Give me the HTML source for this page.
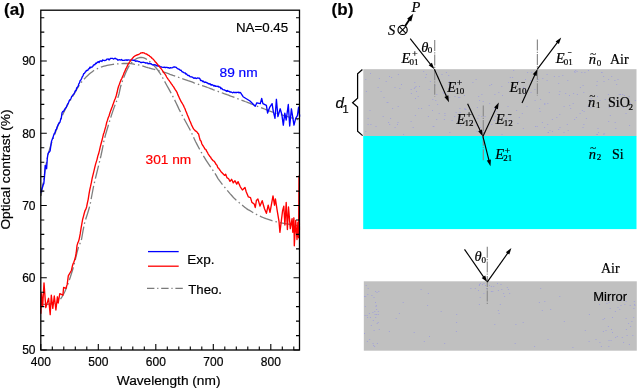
<!DOCTYPE html>
<html><head><meta charset="utf-8"><title>Optical contrast</title>
<style>
html,body{margin:0;padding:0;background:#fff}
body{width:638px;height:388px;overflow:hidden}
svg{display:block}
text{font-family:"Liberation Sans",Arial,sans-serif;fill:#000;stroke:#000;stroke-width:0.2px}
.cb{stroke:#0000ff}.cr{stroke:#ff0000}
.si{font-family:"Liberation Serif","Times New Roman",serif;font-style:italic}
.sr{font-family:"Liberation Serif","Times New Roman",serif}
</style></head><body>
<svg width="638" height="388" viewBox="0 0 638 388">
<rect width="638" height="388" fill="#fff"/>
<!-- panel a -->
<g fill="none" stroke-linejoin="round">
<polyline points="41,196 42.5,186.8 44,177.2 45.5,167.9 47,159.7 48.5,153.1 50,147.7 51.5,143 53,138.8 54.5,134.8 56,130.9 57.5,126.9 59,123.2 60.5,119.6 62,116.2 63.5,113 65,109.9 66.5,107 68,104.3 69.5,101.7 71,99.2 72.5,96.7 74,94.1 75.5,91.5 77,88.9 78.5,86.4 80,84.2 81.5,82.2 83,80.4 84.5,78.7 86,77.1 87.5,75.7 89,74.3 90.5,73 92,71.9 93.5,70.8 95,69.9 96.5,69.1 98,68.4 99.5,67.8 101,67.2 102.5,66.7 104,66.2 105.5,65.8 107,65.4 108.5,65.1 110,64.8 111.5,64.6 113,64.4 114.5,64.2 116,64 117.5,63.9 119,63.8 120.5,63.7 122,63.6 123.5,63.5 125,63.5 126.5,63.5 128,63.5 129.5,63.6 131,63.7 132.5,63.9 134,64.2 135.5,64.4 137,64.6 138.5,64.9 140,65.3 141.5,65.7 143,66.1 144.5,66.6 146,67.1 147.5,67.5 149,68 150.5,68.4 152,68.8 153.5,69.2 155,69.5 156.5,69.9 158,70.3 159.5,70.8 161,71.2 162.5,71.7 164,72.2 165.5,72.7 167,73.2 168.5,73.7 170,74.3 171.5,74.8 173,75.4 174.5,75.9 176,76.4 177.5,77 179,77.5 180.5,78 182,78.6 183.5,79.1 185,79.6 186.5,80.1 188,80.7 189.5,81.2 191,81.7 192.5,82.2 194,82.8 195.5,83.3 197,83.8 198.5,84.3 200,84.8 201.5,85.4 203,85.9 204.5,86.4 206,86.9 207.5,87.5 209,88 210.5,88.6 212,89.2 213.5,89.8 215,90.3 216.5,90.9 218,91.4 219.5,92 221,92.5 222.5,93 224,93.6 225.5,94.1 227,94.7 228.5,95.2 230,95.8 231.5,96.4 233,96.9 234.5,97.5 236,98.1 237.5,98.6 239,99.2 240.5,99.8 242,100.3 243.5,100.9 245,101.5 246.5,102 248,102.6 249.5,103.2 251,103.8 252.5,104.3 254,104.9 255.5,105.5 257,106.1 258.5,106.6 260,107.2 261.5,107.8 263,108.4 264.5,109 266,109.6 267.5,110.2 269,110.8 270.5,111.3 272,111.8 273.5,112.3 275,112.8 276.5,113.3 278,113.7 279.5,114.2 281,114.6 282.5,115.1 284,115.5 285.5,116 287,116.4 288.5,116.9 290,117.3 291.5,117.8 293,118.2 294.5,118.6 296,119.1 297.5,119.5 299,120" stroke="#7e7e7e" stroke-width="1.3" stroke-dasharray="13.5 3 1.5 3"/>
<polyline points="41,304.5 42.5,304.4 44,304.4 45.5,304.3 47,304.3 48.5,304.2 50,304 51.5,303.8 53,303.6 54.5,303.3 56,302.8 57.5,302 59,300.8 60.5,299.1 62,296.9 63.5,294.3 65,291.2 66.5,287.8 68,283.8 69.5,279.5 71,275 72.5,270.2 74,264.9 75.5,258.9 77,252.6 78.5,247 80,243.4 81.5,239.5 83,230.9 84.5,223.4 86,218.3 87.5,213.7 89,208.8 90.5,202.7 92,194.5 93.5,186.7 95,180.2 96.5,174 98,167.9 99.5,161.8 101,155.5 102.5,148.5 104,140.5 105.5,134.9 107,129.7 108.5,124.8 110,119.9 111.5,115.1 113,110.6 114.5,106.4 116,102.7 117.5,98.9 119,94 120.5,87 122,82.2 123.5,78 125,74.4 126.5,71 128,67.9 129.5,65.2 131,63.2 132.5,61.6 134,60.3 135.5,59.3 137,58.4 138.5,57.8 140,57.5 141.5,57.5 143,57.7 144.5,58.2 146,58.9 147.5,59.8 149,60.9 150.5,62.2 152,63.6 153.5,65.1 155,66.7 156.5,68.5 158,70.4 159.5,72.5 161,74.8 162.5,77.5 164,80.2 165.5,83 167,85.7 168.5,88.4 170,91.1 171.5,93.9 173,96.7 174.5,99.6 176,102.7 177.5,105.9 179,109.1 180.5,112.1 182,115 183.5,117.8 185,120.5 186.5,123.3 188,126 189.5,128.8 191,131.7 192.5,134.9 194,138.3 195.5,141.5 197,144.4 198.5,147.2 200,149.9 201.5,152.6 203,155.2 204.5,157.7 206,160.1 207.5,162.4 209,164.6 210.5,166.8 212,169 213.5,171.2 215,173.4 216.5,175.9 218,178.6 219.5,180.7 221,182.7 222.5,184.6 224,186.4 225.5,188.2 227,190 228.5,191.8 230,193.6 231.5,195.3 233,197 234.5,198.6 236,199.9 237.5,201.2 239,202.5 240.5,203.7 242,205 243.5,206.2 245,207.4 246.5,208.6 248,209.6 249.5,210.4 251,211.3 252.5,212.2 254,213.1 255.5,213.9 257,214.7 258.5,215.5 260,216.2 261.5,216.9 263,217.5 264.5,218.1 266,218.7 267.5,219.2 269,219.7 270.5,220.2 272,220.7 273.5,221.1 275,221.5 276.5,221.8 278,222.2 279.5,222.5 281,222.8 282.5,223.1 284,223.4 285.5,223.7 287,223.9 288.5,224.2 290,224.5 291.5,224.7 293,225 294.5,225.2 296,225.5 297.5,225.7 299,226" stroke="#7e7e7e" stroke-width="1.3" stroke-dasharray="13.5 3 1.5 3"/>
<polyline points="41,192.7 41.7,189.5 42.4,187.6 43.1,185 43.8,183.6 44.5,176.6 45.2,165.4 45.9,166.4 46.6,168.7 47.3,158.3 48,153.7 48.7,152.4 49.4,151.9 50.1,150.9 50.8,146 51.5,141.4 52.2,139.4 52.9,137.9 53.6,135.4 54.3,133.5 55,132.8 55.7,129.8 56.4,129.5 57.1,127 57.8,125.4 58.5,124 59.2,123 59.9,122.3 60.6,119.6 61.3,118.1 62,112.8 62.7,111.5 63.4,111.5 64.1,110.3 64.8,109.2 65.5,108.1 66.2,107.5 66.9,105.7 67.6,104.1 68.3,103.1 69,101.4 69.7,99.9 70.4,99.5 71.1,98.2 71.8,96.3 72.5,95.8 73.2,94.5 73.9,94 74.6,92.6 75.3,90.7 76,90.7 76.7,88 77.4,87.2 78.1,86.4 78.8,83.9 79.5,82.9 80.2,80.5 80.9,79.9 81.6,78.5 82.3,76.7 83,75.8 83.7,73.7 84.4,73.3 85.1,72.3 85.8,71.5 86.5,70.5 87.2,70.5 87.9,70.1 88.6,68.8 89.3,68.6 90,67.1 90.7,67.7 91.4,67.1 92.1,67.1 92.8,66.4 93.5,65 94.2,64.7 94.9,64.7 95.6,63.2 96.3,63.5 97,62.6 97.7,62.1 98.4,61.7 99.1,62.5 99.8,61.1 100.5,61 101.2,61 101.9,61.5 102.6,59.9 103.3,60.3 104,60.3 104.7,60.6 105.4,60.3 106.1,60.2 106.8,59.1 107.5,59.1 108.2,58.9 108.9,59.7 109.6,59.7 110.3,58.3 111,58.3 111.7,58.3 112.4,58.3 113.1,58.8 113.8,59 114.5,58.5 115.2,58.1 115.9,58.9 116.6,59 117.3,59.4 118,60.2 118.7,59.9 119.4,59.7 120.1,59.8 120.8,60 121.5,59.5 122.2,60.3 122.9,60.3 123.6,60.4 124.3,60.4 125,60 125.7,60.1 126.4,59.9 127.1,60.4 127.8,59.9 128.5,59.9 129.2,60.1 129.9,60.1 130.6,60.3 131.3,60 132,60 132.7,60.2 133.4,60.2 134.1,60.5 134.8,60.3 135.5,61.2 136.2,61.2 136.9,61 137.6,61.2 138.3,61.5 139,61.7 139.7,61.6 140.4,62.4 141.1,62.7 141.8,62.3 142.5,62.4 143.2,62.2 143.9,62.3 144.6,62.6 145.3,62.7 146,63.3 146.7,62.8 147.4,62.8 148.1,63.8 148.8,63.5 149.5,63.3 150.2,63.9 150.9,63.6 151.6,64.2 152.3,64.8 153,64.9 153.7,64.9 154.4,64.7 155.1,65 155.8,65 156.5,65.7 157.2,65.7 157.9,66.1 158.6,65.8 159.3,65.9 160,66.6 160.7,67 161.4,67 162.1,67.2 162.8,67.3 163.5,67.4 164.2,67.1 164.9,67.5 165.6,67.5 166.3,67.3 167,67.4 167.7,67.7 168.4,67.7 169.1,68 169.8,68.2 170.5,67.6 171.2,67.9 171.9,67.8 172.6,67.7 173.3,67.1 174,67 174.7,67 175.4,67.1 176.1,67.3 176.8,68 177.5,68.6 178.2,69 178.9,69.1 179.6,69.7 180.3,70.3 181,70.2 181.7,71.2 182.4,71.9 183.1,72.2 183.8,72.6 184.5,72.8 185.2,73 185.9,74 186.6,74 187.3,74.9 188,75.5 188.7,75.4 189.4,75.9 190.1,76.7 190.8,76.9 191.5,76.8 192.2,77.1 192.9,77.4 193.6,78.2 194.3,78.3 195,77.7 195.7,78.3 196.4,78.5 197.1,78.2 197.8,78 198.5,78.2 199.2,78.1 199.9,78.7 200.6,80.5 201.3,80.4 202,80.6 202.7,81.6 203.4,81.2 204.1,82.2 204.8,82.5 205.5,82 206.2,82.4 206.9,82.8 207.6,83 208.3,83.8 209,83.6 209.7,84.1 210.4,83.9 211.1,85.2 211.8,84.6 212.5,84.9 213.2,85.3 213.9,86 214.6,85.4 215.3,86.4 216,86 216.7,86.3 217.4,86.5 218.1,86.1 218.8,87 219.5,87 220.2,87.1 220.9,88.7 221.6,88.1 222.3,89 223,89.7 223.7,89.8 224.4,89.8 225.1,90.4 225.8,90.7 226.5,91.3 227.2,90.5 227.9,91.4 228.6,91.1 229.3,91.3 230,92.2 230.7,91.9 231.4,92.1 232.1,92.5 232.8,92.8 233.5,92.2 234.2,92.5 234.9,92.4 235.6,92.5 236.3,92.7 237,92.3 237.7,92.4 238.4,92.2 239.1,92.9 239.8,92.4 240.5,92.7 243.1,96.7 250,101 255.2,106.2 256.9,102.8 260.3,103.6 261.7,98.4 262.9,103.6 266.4,105.3 267.6,113.1 269.8,107.1 272.1,103.6 273.3,111.4 275,118.3 276.4,99.3 277.9,116.6 280.2,108.8 281.9,114.8 283.3,125.2 284.8,113.1 286.2,120 288.3,104.5 289.7,126 291.4,108.8 294,125.2 295.7,118.3 297.4,115.7 298.6,107.1 299.7,116.6" stroke="#0000ff" stroke-width="1.35"/>
<polyline points="40.9,313.8 41.5,293.7 42.7,306 44,282.9 45.8,307.6 48.6,298.3 50.2,314.6 51.3,295.2 52.8,308.4 54.3,296 55.9,310 57.4,296.8 58.2,303 59.8,293.7 62.9,295.2 63.6,287.5 66,288.3 67.2,284.4 68.3,275.9 71.4,270.5 72.2,266.8 73,264 73.8,262.2 74.6,260.1 75.4,257 76.2,253 77,245.6 77.8,242.9 78.6,241.3 79.4,238.1 80.2,233.9 81,228.6 81.8,224.2 82.6,219.5 83.4,216.6 84.2,213.5 85,210.7 85.8,209.4 86.6,207 87.4,202.9 88.2,199.3 89,194.1 89.8,189.6 90.6,186.2 91.4,182.4 92.2,178.1 93,174.9 93.8,171.7 94.6,168.2 95.4,164.9 96.2,162.1 97,159.6 97.8,156.1 98.6,153.8 99.4,150.7 100.2,147.1 101,144 101.8,141 102.6,137.8 103.4,134.3 104.2,132.2 105,129.1 105.8,126.4 106.6,122.8 107.4,120.4 108.2,117.7 109,116 109.8,113.2 110.6,110.9 111.4,108.8 112.2,106.8 113,104.6 113.8,102.2 114.6,100 115.4,98.2 116.2,95.7 117,92.8 117.8,89 118.6,86.2 119.4,84.3 120.2,82.1 121,79.9 121.8,78.6 122.6,76.5 123.4,74.8 124.2,72.5 125,71.1 125.8,68.8 126.6,67.6 127.4,65.7 128.2,64.1 129,62.9 129.8,61.9 130.6,60.4 131.4,59.3 132.2,58.7 133,57.7 133.8,56.8 134.6,56.2 135.4,55.6 136.2,55.3 137,55 137.8,54.7 138.6,54.6 139.4,53.9 140.2,53.5 141,52.9 141.8,52.8 142.6,52.6 143.4,52.9 144.2,52.9 145,53.6 145.8,53.8 146.6,54 147.4,54.6 148.2,55.3 149,55.4 149.8,56.4 150.6,56.8 151.4,57.5 152.2,58.5 153,59 153.8,59.9 154.6,60.9 155.4,62 156.2,62.6 157,63.8 157.8,64.7 158.6,65.7 159.4,66.6 160.2,67.6 161,68.5 161.8,69.7 162.6,70.7 163.4,72.3 164.2,73.1 165,74.2 165.8,75.3 166.6,77 167.4,78.2 168.2,79.3 169,80.3 169.8,81.5 170.6,82.7 171.4,83.9 172.2,84.9 173,86.1 173.8,87.1 174.6,88.7 175.4,89.9 176.2,91 177,92.3 177.8,94.6 178.6,96.2 179.4,98.1 180.2,99.7 181,101.4 181.8,102.7 182.6,104 183.4,105.3 184.2,107.3 185,108.8 185.8,110.9 186.6,112.8 187.4,114.9 188.2,116.7 189,118.7 189.8,120.8 190.6,122.6 191.4,124.6 192.2,126.2 193,127.9 193.8,129.1 194.6,130.1 195.4,130.9 196.2,131.3 197,132 197.8,133.3 198.6,134.1 199.4,137.4 200.2,140.2 201,140.9 201.8,143.7 202.6,145.3 203.4,146.2 204.2,147.7 205,149.1 205.8,149.3 206.6,151.2 207.4,152.3 208.2,154.1 209,155.2 209.8,156.4 210.6,157.1 211.4,158.7 212.2,159.5 213,160.6 213.8,161 214.6,161.8 215.4,163.1 216.2,164.6 217,165.3 217.8,167.6 218.6,168.2 219.4,169.4 220.2,170.5 221,171.7 221.8,172.5 224.7,175.4 225.7,174.2 226.9,177.6 228.6,178.8 230,181.4 231.6,179.3 233.3,182.9 235,180.7 236.7,184.1 238.1,181.7 240.2,186.6 242.4,190 245,187.4 246.2,191.7 248.4,196.9 250.5,197.6 251.9,202.4 254.2,204 255.3,207.5 256.4,200.5 257.9,198.9 260,206.1 262.2,200.7 264.5,208.8 266.4,213.3 268.2,205.2 270,212.4 273,195.9 274.5,205.2 275.4,198.9 277.2,210.6 279,221.4 279.9,232.3 282.6,210.6 283.8,206.1 284.9,225 286.2,202.5 287.4,229.5 288.5,207 290.3,228.6 292.1,218.7 292.8,232.3 293.9,217.8 294.3,245.8 295.7,220.5 297,239.5 297.9,222.3 298.6,237.7 299,176 299.4,230" stroke="#ff0000" stroke-width="1.35"/>
</g>
<rect x="40.8" y="10.2" width="258.7" height="339.8" fill="none" stroke="#000" stroke-width="1.3"/>
<path d="M40.8 350V344M52.3 350V346.5M63.8 350V346.5M75.3 350V346.5M86.8 350V346.5M98.3 350V344M109.8 350V346.5M121.3 350V346.5M132.8 350V346.5M144.3 350V346.5M155.8 350V344M167.3 350V346.5M178.8 350V346.5M190.3 350V346.5M201.8 350V346.5M213.3 350V344M224.8 350V346.5M236.3 350V346.5M247.8 350V346.5M259.3 350V346.5M270.8 350V344M282.3 350V346.5M293.8 350V346.5M40.8 350H46.8M299.5 350H293.5M40.8 335.6H44.3M299.5 335.6H296M40.8 321.1H44.3M299.5 321.1H296M40.8 306.6H44.3M299.5 306.6H296M40.8 292.2H44.3M299.5 292.2H296M40.8 277.8H46.8M299.5 277.8H293.5M40.8 263.3H44.3M299.5 263.3H296M40.8 248.9H44.3M299.5 248.9H296M40.8 234.4H44.3M299.5 234.4H296M40.8 220H44.3M299.5 220H296M40.8 205.5H46.8M299.5 205.5H293.5M40.8 191.1H44.3M299.5 191.1H296M40.8 176.6H44.3M299.5 176.6H296M40.8 162.2H44.3M299.5 162.2H296M40.8 147.7H44.3M299.5 147.7H296M40.8 133.2H46.8M299.5 133.2H293.5M40.8 118.8H44.3M299.5 118.8H296M40.8 104.4H44.3M299.5 104.4H296M40.8 89.9H44.3M299.5 89.9H296M40.8 75.4H44.3M299.5 75.4H296M40.8 61H46.8M299.5 61H293.5M40.8 46.6H44.3M299.5 46.6H296M40.8 32.1H44.3M299.5 32.1H296M40.8 17.7H44.3M299.5 17.7H296" stroke="#000" stroke-width="1.1" fill="none"/>
<g font-size="12"><text x="40.8" y="365.5" text-anchor="middle">400</text><text x="98.3" y="365.5" text-anchor="middle">500</text><text x="155.8" y="365.5" text-anchor="middle">600</text><text x="213.3" y="365.5" text-anchor="middle">700</text><text x="270.8" y="365.5" text-anchor="middle">800</text><text x="35.5" y="354.3" text-anchor="end">50</text><text x="35.5" y="282.1" text-anchor="end">60</text><text x="35.5" y="209.8" text-anchor="end">70</text><text x="35.5" y="137.6" text-anchor="end">80</text><text x="35.5" y="65.3" text-anchor="end">90</text></g>
<text x="4" y="15" font-size="17" font-weight="bold">(a)</text>
<text x="236" y="32" font-size="13.3">NA=0.45</text>
<text x="219.6" y="76.8" font-size="13.7" class="cb" style="fill:#0000ff">89 nm</text>
<text x="145.6" y="163.8" font-size="13.7" class="cr" style="fill:#ff0000">301 nm</text>
<line x1="148" y1="251.6" x2="178.7" y2="251.6" stroke="#0000ff" stroke-width="1.3"/>
<line x1="148" y1="266.2" x2="178.7" y2="266.2" stroke="#ff0000" stroke-width="1.3"/>
<line x1="147" y1="288.4" x2="184" y2="288.4" stroke="#7a7a7a" stroke-width="1.1" stroke-dasharray="7.4 2.8 1.2 2.8"/>
<text x="187.3" y="263.5" font-size="13.6">Exp.</text>
<text x="188.3" y="294" font-size="13.2">Theo.</text>
<text x="168.6" y="384.7" font-size="13.7" text-anchor="middle">Wavelength (nm)</text>
<text transform="translate(10.3 169.5) rotate(-90)" font-size="13.7" text-anchor="middle">Optical contrast (%)</text>
<!-- panel b -->
<text x="331.6" y="15" font-size="17" font-weight="bold">(b)</text>
<rect x="363.3" y="69.2" width="273.2" height="67" fill="#c0c0c0"/>
<rect x="363.2" y="136" width="273.3" height="93.1" fill="#00ffff"/>
<rect x="363.8" y="281.3" width="273" height="69.4" fill="#c0c0c0"/>
<path d="M428.7 105.5h1M464.6 109.5h1M534.2 74.5h1M367.6 124.5h1M434.5 85.5h1M634.8 100.5h1M591.5 100.5h1M537.8 79.5h1M536.7 126.5h1M506.3 118.5h1M546.6 74.5h1M570.2 108.5h1M445.9 72.5h1M599.4 100.5h1M559.5 127.5h1M558.2 129.5h1M471.4 122.5h1M484.9 130.5h1M603.1 76.5h1M401 84.5h1M626.6 98.5h1M534.4 89.5h1M502 95.5h1M459.4 108.5h1M522.9 128.5h1M549.5 130.5h1M596.9 134.5h1M546.6 80.5h1M598.1 132.5h1M610.1 106.5h1M558.2 83.5h1M590.2 107.5h1M441.5 74.5h1M596.3 134.5h1M388.1 122.5h1M475.6 79.5h1M443.9 119.5h1M601.4 72.5h1M531.2 72.5h1M559.4 91.5h1M603.6 133.5h1M501.5 134.5h1M448.2 75.5h1M527.1 72.5h1M417.7 96.5h1M530 80.5h1M375.5 126.5h1M449.4 132.5h1M607.9 94.5h1M489.2 103.5h1M539.1 108.5h1M516.1 110.5h1M619.8 102.5h1M481.3 116.5h1M428.6 89.5h1M630 103.5h1M513.2 70.5h1M476.9 107.5h1M369.5 110.5h1M536 73.5h1M534.6 100.5h1M548.8 92.5h1M556.3 117.5h1M370 73.5h1M547.9 132.5h1M432.3 99.5h1M525.2 90.5h1M463 90.5h1M464.4 108.5h1M445.7 94.5h1M574.1 71.5h1M518.8 117.5h1M448.3 84.5h1M582.6 85.5h1M415 98.5h1M553.9 76.5h1M451.6 91.5h1M590.7 98.5h1M596.7 81.5h1M455.6 112.5h1M604.7 99.5h1M425.2 77.5h1M508.1 82.5h1M583.4 124.5h1M413.9 88.5h1M583.6 111.5h1M583.3 92.5h1M399.3 88.5h1M579.9 87.5h1M458.2 97.5h1M478.2 96.5h1M614.4 80.5h1M365.3 131.5h1M603.4 134.5h1M482.1 131.5h1M616.2 84.5h1M566.8 124.5h1M544.3 103.5h1M442.6 92.5h1M425.9 74.5h1M524.1 88.5h1M584.4 72.5h1M609.8 115.5h1M615.3 128.5h1M608.7 107.5h1M367.6 118.5h1M410.7 89.5h1M544.3 104.5h1M476.5 131.5h1M530.5 92.5h1M432.7 126.5h1M493.8 120.5h1M459.7 82.5h1M509.4 123.5h1M410.6 121.5h1M614.7 122.5h1M588 70.5h1M535 126.5h1M377.6 87.5h1M437.1 104.5h1M479.1 100.5h1M575.2 70.5h1M378.9 78.5h1M397.9 74.5h1M629.1 125.5h1M387.4 102.5h1M449.9 90.5h1M459.6 112.5h1M523.6 93.5h1M416 91.5h1M397.7 106.5h1M558.8 94.5h1M385.7 81.5h1M465.5 109.5h1M576.9 94.5h1M581.9 110.5h1M481.4 94.5h1M499 115.5h1M478.4 115.5h1M489.3 85.5h1M509.7 115.5h1M383.5 97.5h1M479.8 127.5h1M618.7 94.5h1M608.2 121.5h1M435.3 100.5h1M397.5 122.5h1M544.1 127.5h1M579.6 113.5h1M563.6 106.5h1M392.1 108.5h1M365.3 79.5h1M574.6 72.5h1M389 76.5h1M603.5 81.5h1M370.4 124.5h1M397 124.5h1M547.2 124.5h1M623.1 107.5h1M581.3 72.5h1M572.7 103.5h1M558.5 76.5h1M567.7 130.5h1M380.6 91.5h1M517.4 123.5h1M429.9 81.5h1M432 110.5h1M569 95.5h1M464 95.5h1M459.3 97.5h1M386.6 102.5h1M628.7 96.5h1M567.3 80.5h1M551.9 119.5h1M547.3 103.5h1M495.6 111.5h1M608.1 79.5h1M390.1 118.5h1M613.3 103.5h1M484.5 116.5h1M414.6 87.5h1M418.2 108.5h1M449.6 85.5h1M552 131.5h1M444.5 115.5h1M476.4 125.5h1M523 87.5h1M423.2 71.5h1M494.4 94.5h1M410.9 93.5h1M451.6 120.5h1M403.1 134.5h1M494.4 108.5h1M491.3 124.5h1M587.5 106.5h1M494.9 116.5h1M597 96.5h1M563.5 132.5h1M491.1 84.5h1M427.9 116.5h1M547.7 132.5h1M596.3 85.5h1M415.6 86.5h1M414.9 115.5h1M597.5 128.5h1M433.4 126.5h1M449.2 97.5h1M562.3 75.5h1M389.2 124.5h1M443.4 93.5h1M521.8 113.5h1M365.9 91.5h1M482.7 101.5h1M421.1 108.5h1M623.9 95.5h1M512.1 77.5h1M438.7 113.5h1M394.6 127.5h1M611.2 76.5h1M620 94.5h1M574.1 119.5h1M444.4 113.5h1M541.9 122.5h1M436.2 119.5h1M625.5 113.5h1M509.8 77.5h1M498.3 92.5h1M559.3 114.5h1M518.1 81.5h1M539.6 111.5h1M412.7 127.5h1M542.3 78.5h1M617.5 79.5h1M454.2 116.5h1M526.5 106.5h1M540.1 99.5h1M449 81.5h1M382.7 116.5h1M569.2 105.5h1M565.2 93.5h1M436.3 94.5h1M601.3 72.5h1M501.3 86.5h1M573.1 93.5h1M454.5 96.5h1M511.3 120.5h1M460 125.5h1M394.5 87.5h1M391.1 77.5h1M575.9 117.5h1M414.3 82.5h1M477.3 118.5h1M585.9 118.5h1M525 79.5h1M472.4 82.5h1M507.5 106.5h1M419 86.5h1M576.6 71.5h1M582.5 127.5h1M622.2 94.5h1M372.8 320.5h1M374.1 346.5h1M375 302.5h1M377.8 314.5h1M373.6 330.5h1M364 333.5h1M374.6 314.5h1M372.4 312.5h1M367.1 317.5h1M364.6 315.5h1M374.3 311.5h1M373.1 345.5h1M378.3 291.5h1M376.7 323.5h1M364.8 306.5h1M367.7 288.5h1M372.6 343.5h1M369.2 339.5h1M375.1 291.5h1M377.7 322.5h1M378.8 329.5h1M375.8 305.5h1M376.9 343.5h1M377.8 311.5h1M376.1 314.5h1M365.7 285.5h1M365.2 296.5h1M366.6 315.5h1M375.2 317.5h1M370.8 325.5h1M368.9 313.5h1M376.1 309.5h1M366.9 341.5h1M375.5 306.5h1M369.9 317.5h1M373.5 297.5h1M364 296.5h1M376.5 292.5h1M371.4 295.5h1M367.3 294.5h1M490.9 286.5h1M478.9 285.5h1M483.4 293.5h1M479.9 283.5h1M492.3 291.5h1M500.5 284.5h1M490.9 291.5h1M478.9 304.5h1M485 285.5h1M493.2 286.5h1M497.9 290.5h1M482 284.5h1M501.3 289.5h1M503.2 293.5h1M507.9 289.5h1M486 288.5h1M504.1 296.5h1M489 285.5h1M499.8 304.5h1M497 283.5h1M479 284.5h1M483.5 283.5h1M479.7 297.5h1M506.8 287.5h1M509.2 293.5h1M628.9 344.5h1M633.8 301.5h1M611 329.5h1M634.1 304.5h1M610.6 340.5h1M604.1 318.5h1M612 332.5h1M633.4 308.5h1M626.6 335.5h1M630.1 326.5h1M633.2 317.5h1M614.9 311.5h1M628.1 323.5h1M609.7 308.5h1M625.9 329.5h1M625.6 318.5h1M617.5 307.5h1M625.6 301.5h1M616.8 336.5h1M624.4 304.5h1M608.5 340.5h1M623.1 342.5h1M631.4 321.5h1M632.3 335.5h1M612 317.5h1M602.6 319.5h1M634.4 305.5h1M620.5 305.5h1M602.9 331.5h1M608.7 302.5h1M605.5 330.5h1M621.1 300.5h1M608.3 346.5h1M607.9 326.5h1M615.1 337.5h1M621.8 337.5h1M619.3 309.5h1M606.4 303.5h1M629.7 305.5h1M600.9 346.5h1M423.8 341.5h1M398.9 313.5h1M429 336.5h1M515.4 324.5h1M547.5 339.5h1M456.1 322.5h1M478 290.5h1M563.8 321.5h1M559.3 296.5h1M498.6 313.5h1M540.2 288.5h1M456.2 314.5h1M395.7 318.5h1M541.8 310.5h1M522.7 322.5h1M427.1 305.5h1M599.1 304.5h1M474.8 288.5h1M427.9 293.5h1M584.8 330.5h1M572.4 347.5h1M514.7 343.5h1M497.9 310.5h1M588.6 341.5h1M588.9 314.5h1M550.2 309.5h1M599.4 342.5h1M444.2 343.5h1M420.6 289.5h1M538.9 302.5h1M494.3 324.5h1M388.9 331.5h1M440.7 311.5h1M455.9 331.5h1M544.3 301.5h1M402.7 302.5h1M470.4 288.5h1M413.7 332.5h1M534.1 346.5h1M595.5 339.5h1" stroke="#9c9cdc" stroke-width="1" opacity="0.85" fill="none"/>
<g stroke="#8c8c8c" stroke-width="1.2" stroke-dasharray="11 1.2 1.2 1.2" fill="none">
<path d="M434.7 40V96.5"/><path d="M537.4 39.5V96"/><path d="M483.3 105.5V161"/><path d="M487.3 246.8V304"/>
</g>
<line x1="403.5" y1="28.5" x2="410.8" y2="17.5" stroke="#000" stroke-width="1.9"/><polygon points="413.3,13.8 411.2,21.4 407.1,18.7"/><line x1="410.2" y1="38.7" x2="431.9" y2="66.1" stroke="#000" stroke-width="1.15"/><polygon points="434.4,69.2 428.7,65.3 431.9,62.7"/><line x1="434.4" y1="69.2" x2="447.4" y2="98.6" stroke="#000" stroke-width="1.15"/><polygon points="449,102.2 444.4,97 448.3,95.3"/><line x1="467.6" y1="103.8" x2="481.2" y2="132.8" stroke="#000" stroke-width="1.15"/><polygon points="482.9,136.4 478.2,131.3 482,129.5"/><line x1="482.9" y1="136.4" x2="497.1" y2="106" stroke="#000" stroke-width="1.15"/><polygon points="498.8,102.4 497.9,109.3 494.1,107.5"/><line x1="482.9" y1="136.4" x2="489.5" y2="162.5" stroke="#000" stroke-width="1.15"/><polygon points="490.5,166.3 486.8,160.4 490.9,159.4"/><line x1="522" y1="103" x2="535.8" y2="72.8" stroke="#000" stroke-width="1.15"/><polygon points="537.4,69.2 536.6,76.1 532.8,74.3"/><line x1="537.4" y1="69.2" x2="558.8" y2="40.7" stroke="#000" stroke-width="1.15"/><polygon points="561.2,37.5 558.9,44 555.6,41.5"/><line x1="464.5" y1="249.3" x2="484.9" y2="278.8" stroke="#000" stroke-width="1.15"/><polygon points="487.2,282.1 481.7,277.9 485.2,275.5"/><line x1="487.2" y1="282.1" x2="509.1" y2="251.2" stroke="#000" stroke-width="1.15"/><polygon points="511.4,248 509.3,254.6 505.9,252.2"/>
<circle cx="402.6" cy="29.9" r="4.6" fill="#fff" stroke="#000" stroke-width="1.2"/>
<path d="M399.4 26.7l6.4 6.4M405.8 26.7l-6.4 6.4" stroke="#000" stroke-width="1.1"/>
<text x="388" y="35" class="si" font-size="14.5">S</text>
<text x="411.6" y="11.8" class="si" font-size="14.5">P</text>
<text x="421.2" y="51.5" class="si" font-size="14.5">&#952;</text><text x="427.8" y="53.3" class="sr" font-size="9">0</text>
<text x="474.4" y="261.4" class="si" font-size="14.5">&#952;</text><text x="481.4" y="263.2" class="sr" font-size="9">0</text>
<text x="401.6" y="63.2" class="si" font-size="14.5">E</text><text x="409.6" y="65.4" class="sr" font-size="9">01</text><text x="411.9" y="57.3" class="sr" font-size="10">+</text><text x="447.2" y="91.8" class="si" font-size="14.5">E</text><text x="455.2" y="94" class="sr" font-size="9">10</text><text x="456.7" y="85.9" class="sr" font-size="10">+</text><text x="456.4" y="124.1" class="si" font-size="14.5">E</text><text x="464.4" y="126.3" class="sr" font-size="9">12</text><text x="466.3" y="117.5" class="sr" font-size="10">+</text><text x="495.8" y="124.1" class="si" font-size="14.5">E</text><text x="503.8" y="126.3" class="sr" font-size="9">12</text><text x="507.4" y="116.5" class="sr" font-size="7.5">−</text><text x="495.2" y="159" class="si" font-size="14.5">E</text><text x="503.2" y="161.2" class="sr" font-size="9">21</text><text x="504.5" y="153.9" class="sr" font-size="10">+</text><text x="509.4" y="92.2" class="si" font-size="14.5">E</text><text x="517.4" y="94.4" class="sr" font-size="9">10</text><text x="521" y="84.6" class="sr" font-size="7.5">−</text><text x="555.8" y="62.6" class="si" font-size="14.5">E</text><text x="563.8" y="64.8" class="sr" font-size="9">01</text><text x="567.4" y="55" class="sr" font-size="7.5">−</text>
<text x="588.8" y="64.4" class="si" font-size="14.5">n</text><text x="590" y="56.6" class="si" font-size="11">~</text><text x="596.8" y="66" class="sr" font-size="9">0</text>
<text x="588" y="106.7" class="si" font-size="14.5">n</text><text x="589.2" y="98.9" class="si" font-size="11">~</text><text x="596" y="108.3" class="sr" font-size="9">1</text>
<text x="588.8" y="158.6" class="si" font-size="14.5">n</text><text x="590" y="150.8" class="si" font-size="11">~</text><text x="596.8" y="160.2" class="sr" font-size="9">2</text>
<text x="610" y="64.4" class="sr" font-size="14">Air</text>
<text x="608" y="106.7" class="sr" font-size="14">SiO</text><text x="628.4" y="109.6" class="sr" font-size="9">2</text>
<text x="612" y="158.6" class="sr" font-size="14">Si</text>
<text x="601" y="273.2" class="sr" font-size="14">Air</text>
<text x="593.2" y="301" font-size="13">Mirror</text>
<path d="M362.4 69.5L357.6 73.8V98.2L352.6 102.7L357.6 107V131.3L362.6 135.6" fill="none" stroke="#000" stroke-width="1.25" stroke-linejoin="miter"/>
<text x="335.6" y="108.4" font-size="15" font-style="italic">d</text><text x="342.6" y="112.6" font-size="11">1</text>
</svg>
</body></html>
